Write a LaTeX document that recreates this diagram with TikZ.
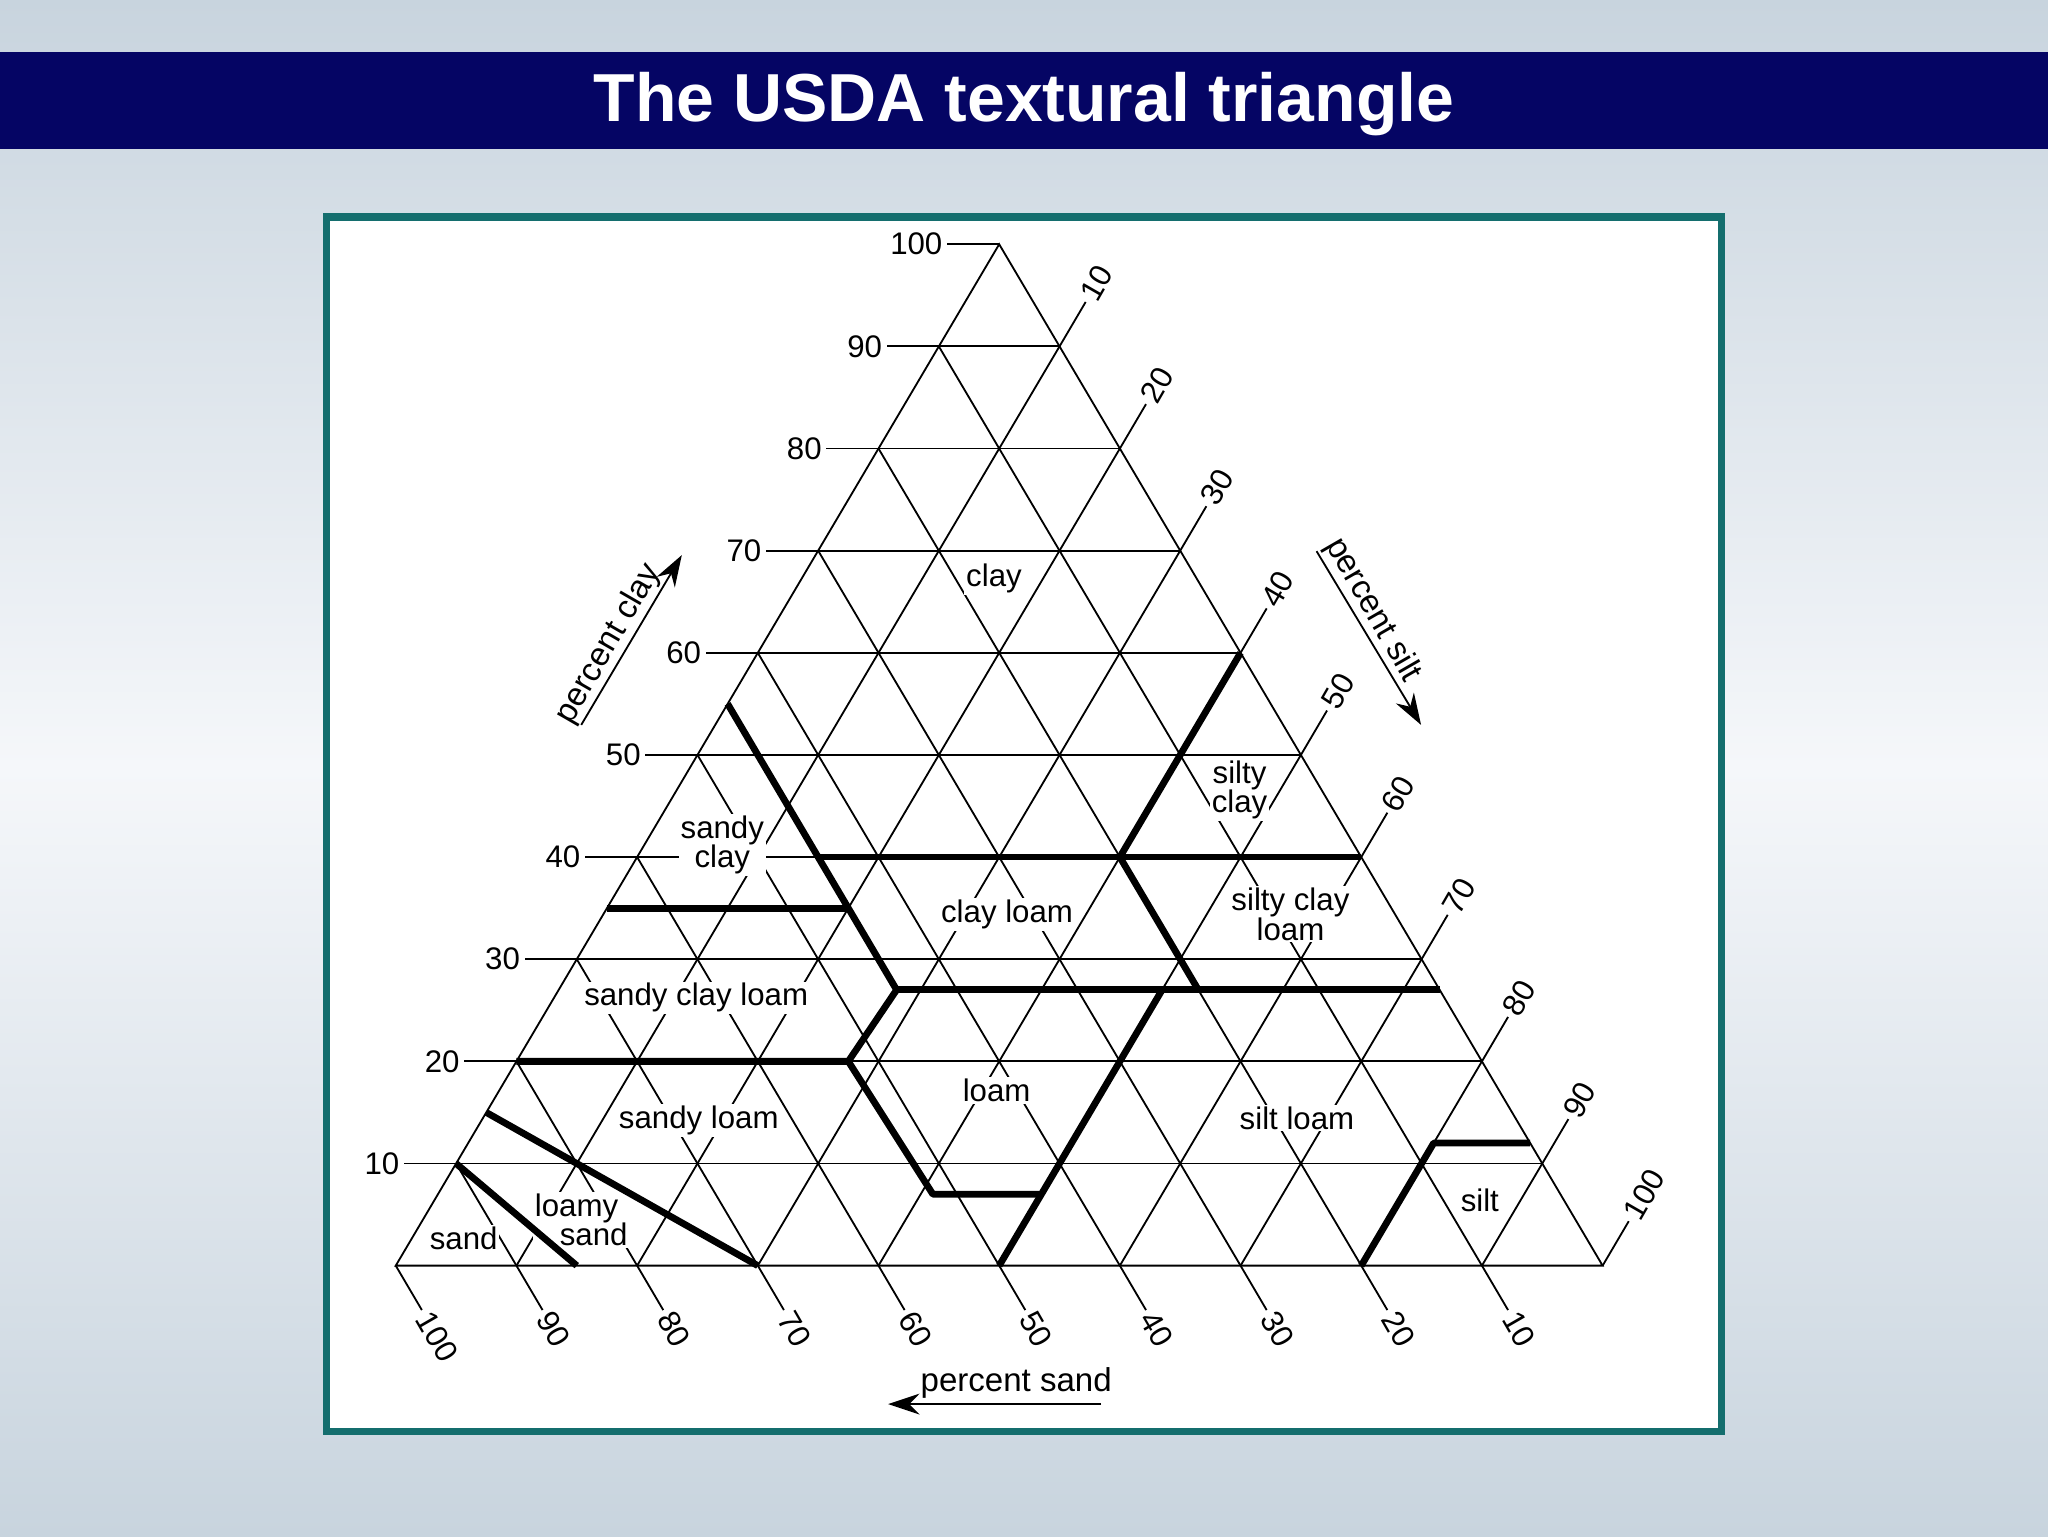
\documentclass[tikz,border=0pt]{standalone}
\usepackage{fontspec}
\setmainfont{Liberation Sans}
\usetikzlibrary{arrows.meta}
\definecolor{navy}{RGB}{5,5,100}
\definecolor{framecol}{RGB}{20,110,110}
\definecolor{bgtop}{RGB}{200,212,222}
\definecolor{bgmid}{RGB}{245,247,250}
% point of the triangle from clay and silt percentages
\newcommand{\tern}[2]{({303+((#2)+(#1)/2)*9.24},{969-(#1)*7.82})}
\tikzset{
    grid line/.style={line width=0.35mm,black},
    class line/.style={line width=1.3mm,black,line join=round},
    num/.style={font=\fontsize{17}{19}\selectfont,inner sep=2pt},
    soil/.style={font=\fontsize{17}{20}\selectfont,fill=white,inner sep=1pt,align=center},
    axis arrow/.style={line width=0.35mm,-{Stealth[length=6mm,width=4mm]}}
}
\begin{document}
\begin{tikzpicture}[x=0.25mm,y=-0.25mm]
    \useasboundingbox (0,0) rectangle (1568,1176);
    \shade[top color=bgtop,bottom color=bgtop,middle color=bgmid] (0,0) rectangle (1568,1176);
    \fill[navy] (0,40) rectangle (1568,114);
    \node[text=white,font=\fontsize{37}{40}\selectfont\bfseries] (title) at (784,80) {The USDA textural triangle};
    \draw[framecol,fill=white,line width=1.5mm] (250,166) rectangle (1318,1096);

    % grid
    \foreach \i in {10,20,...,90} {
        \draw [grid line] \tern{\i}{0} -- \tern{\i}{100-\i};
        \draw [grid line] \tern{0}{\i} -- \tern{100-\i}{\i};
        \draw [grid line] \tern{0}{100-\i} -- \tern{100-\i}{0};
    }
    \draw [grid line] \tern{0}{0} -- \tern{0}{100} -- \tern{100}{0} -- cycle;

    % ticks and numbers
    \foreach \i in {10,20,...,100} {
        \draw [grid line] \tern{\i}{0} -- ++(-40,0) node[num,left]{\i};
        \draw [grid line] \tern{100-\i}{\i} -- ++(20,-34) node[num,rotate=60,anchor=west]{\i};
        \draw [grid line] \tern{0}{100-\i} -- ++(20,34) node[num,rotate=-60,anchor=west]{\i};
    }

    % class names
    \node[soil] (clay) at (761,443) {clay};
    \node[soil] (siltyclay) at (949,605) {silty\\[-4pt]clay};
    \node[soil] (sandyclay) at (553,647) {sandy\\[-4pt]clay};
    \node[soil] (clayloam) at (771,700) {clay loam};
    \node[soil] (siltyclayloam) at (988,700) {silty clay\\[-4pt]loam};
    \node[soil] (sandyclayloam) at (533,764) {sandy clay loam};
    \node[soil] (loam) at (763,835) {loam};
    \node[soil] (siltloam) at (993,856) {silt loam};
    \node[soil] (sandyloam) at (535,858) {sandy loam};
    \node[soil,align=left] (loamysand) at (445,934) {loamy\\[-4pt]\hspace*{0.8em}sand};
    \node[soil] (sand) at (355,948) {sand};
    \node[soil] (silt) at (1133,919) {silt};

    % class boundaries
    \draw [class line] \tern{10}{0} -- \tern{0}{15};
    \draw [class line] \tern{15}{0} -- \tern{0}{30};
    \draw [class line] \tern{20}{0} -- \tern{20}{27.5} -- \tern{7}{41} -- \tern{7}{50};
    \draw [class line] \tern{0}{50} -- \tern{27}{50};
    \draw [class line] \tern{20}{27.5} -- \tern{27}{28} -- \tern{35}{20} -- \tern{55}{0};
    \draw [class line] \tern{35}{0} -- \tern{35}{20};
    \draw [class line] \tern{27}{28} -- \tern{27}{73};
    \draw [class line] \tern{40}{15} -- \tern{40}{60};
    \draw [class line] \tern{60}{40} -- \tern{40}{40} -- \tern{27}{53};
    \draw [class line] \tern{0}{80} -- \tern{12}{80} -- \tern{12}{88};

    % axis titles
    \node[num,font=\fontsize{18}{20}\selectfont,rotate=60] (pclay) at (466,493) {percent clay};
    \coordinate (ca) at (445,555);
    \coordinate (cb) at (522,425);
    \draw [axis arrow] (ca) -- (cb);
    \node[num,font=\fontsize{18}{20}\selectfont,rotate=-60] (psilt) at (1051,467) {percent silt};
    \coordinate (sa) at (1008,422);
    \coordinate (sb) at (1088,555);
    \draw [axis arrow] (sa) -- (sb);
    \node[num,font=\fontsize{18}{20}\selectfont] (psand) at (778,1059) {percent sand};
    \coordinate (na) at (843,1075);
    \coordinate (nb) at (680,1075);
    \draw [axis arrow] (na) -- (nb);
\end{tikzpicture}
\end{document}
